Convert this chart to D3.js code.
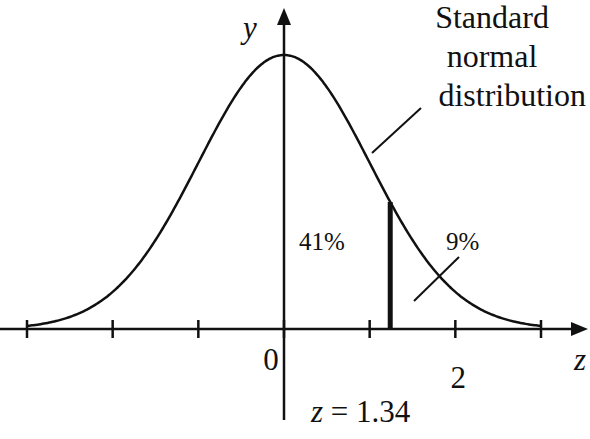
<!DOCTYPE html><html><head><script src="https://cdn.jsdelivr.net/npm/d3@7"></script>
<style>body{margin:0;background:#fff}text{font-family:"Liberation Serif","Times New Roman",serif;fill:#111}</style></head><body>
<script>
const tickValues=[-3,-2,-1,0,1,2,3];
const tickLabels=[{v:0,t:"0"},{v:2,t:"2"}];
const barZ=1.24;
const zLabel="z = 1.34";
const leftPct="41%", rightPct="9%";
const titleLines=["Standard","normal","distribution"];
const W=590,H=439;
const svg=d3.select("body").append("svg").attr("width",W).attr("height",H);
const x=d3.scaleLinear().domain([-3,3]).range([27,541]);
const y=d3.scaleLinear().domain([0,0.3989]).range([329,55]);
const pdf=z=>Math.exp(-z*z/2)/Math.sqrt(2*Math.PI);
const pts=d3.range(-3,3.001,0.02).map(z=>[z,pdf(z)]);
svg.append("path").attr("d",d3.line().x(d=>x(d[0])).y(d=>y(d[1])).curve(d3.curveBasis)(pts)).attr("fill","none").attr("stroke","#111").attr("stroke-width",2.5);
svg.append("line").attr("x1",0).attr("x2",575).attr("y1",y(0)).attr("y2",y(0)).attr("stroke","#111").attr("stroke-width",2.5);
svg.append("path").attr("d",`M588,${y(0)}L571,${y(0)-7}L571,${y(0)+7}Z`).attr("fill","#111");
svg.append("line").attr("x1",x(0)).attr("x2",x(0)).attr("y1",22).attr("y2",420).attr("stroke","#111").attr("stroke-width",2.5);
svg.append("path").attr("d",`M${x(0)},8L${x(0)-7},25L${x(0)+7},25Z`).attr("fill","#111");
tickValues.forEach(v=>svg.append("line").attr("x1",x(v)).attr("x2",x(v)).attr("y1",y(0)-9).attr("y2",y(0)+9).attr("stroke","#111").attr("stroke-width",2.5));
tickLabels.forEach(d=>svg.append("text").attr("x",x(d.v)+(d.v===0?-13:3)).attr("y",d.v===0?370:388).attr("text-anchor","middle").attr("font-size",31).text(d.t));
svg.append("line").attr("x1",x(barZ)).attr("x2",x(barZ)).attr("y1",y(0)).attr("y2",y(pdf(barZ))).attr("stroke","#111").attr("stroke-width",5);
svg.append("text").attr("x",243).attr("y",38).attr("font-size",31).attr("font-style","italic").text("y");
svg.append("text").attr("x",574).attr("y",370).attr("font-size",31).attr("font-style","italic").text("z");
titleLines.forEach((t,i)=>svg.append("text").attr("x",i==2?586:492).attr("y",28+i*39).attr("text-anchor",i==2?"end":"middle").attr("font-size",32).text(t));
svg.append("line").attr("x1",372).attr("y1",153).attr("x2",421).attr("y2",108).attr("stroke","#111").attr("stroke-width",2);
svg.append("line").attr("x1",414).attr("y1",301).attr("x2",459).attr("y2",257).attr("stroke","#111").attr("stroke-width",2);
svg.append("text").attr("x",299).attr("y",250).attr("font-size",25).text(leftPct);
svg.append("text").attr("x",446).attr("y",250).attr("font-size",25).text(rightPct);
const zt=svg.append("text").attr("x",311).attr("y",422).attr("font-size",31);
zt.append("tspan").attr("font-style","italic").text("z");
zt.append("tspan").text(zLabel.slice(1));
</script></body></html>
